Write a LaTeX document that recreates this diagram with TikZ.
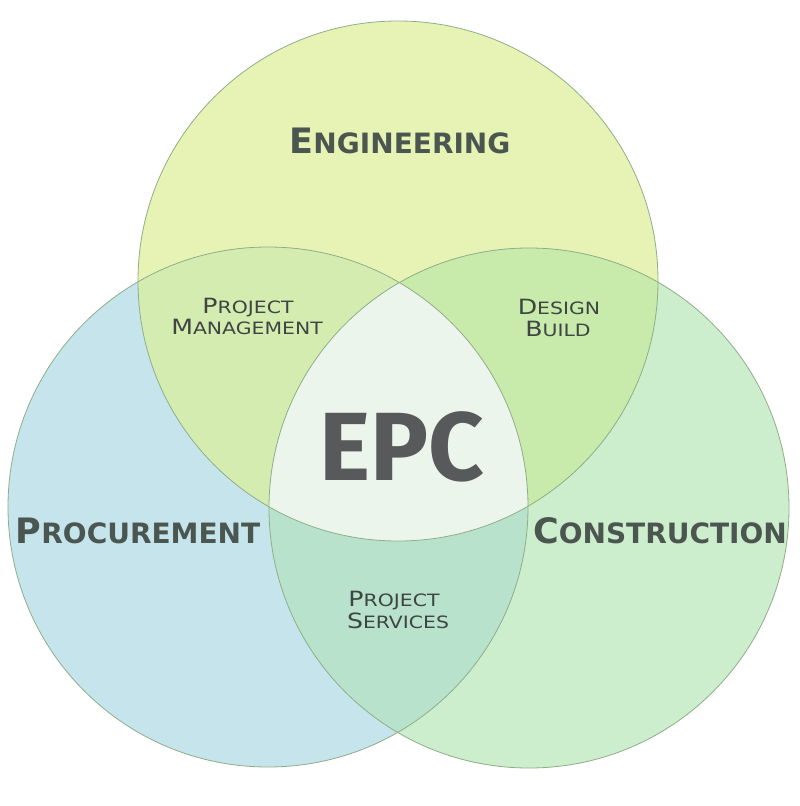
\documentclass[tikz,border=0pt]{standalone}
\usepackage{fontspec}
\setmainfont{DejaVu Sans}
\newfontfamily\headf{DejaVu Sans}
\newfontfamily\epcf{Fira Sans}
\newfontfamily\thinf[FakeStretch=1.2]{DejaVu Sans}
\definecolor{topc}{HTML}{E6F3B4}
\definecolor{leftc}{HTML}{C5E4EC}
\definecolor{rightc}{HTML}{CCEECC}
\definecolor{tlc}{HTML}{D4ECB0}
\definecolor{trc}{HTML}{C8EAAA}
\definecolor{lrc}{HTML}{B8E2CC}
\definecolor{midc}{HTML}{ECF5EC}
\definecolor{edgec}{HTML}{8FAE88}
\definecolor{headc}{HTML}{4B5651}
\definecolor{epcc}{HTML}{58595B}
\definecolor{smallc}{HTML}{3E4542}
\newcommand\hsc[2]{{\fontsize{35}{36}\selectfont #1}{\fontsize{28}{30}\selectfont #2}}
\newcommand\tsc[2]{{\fontsize{21}{22}\selectfont #1}{\fontsize{17}{18}\selectfont #2}}
\tikzset{
  ring/.style={draw=edgec, line width=0.8pt},
  headlbl/.style={text=headc, font=\headf\bfseries, inner sep=0pt, anchor=base},
  smalllbl/.style={text=smallc, font=\thinf, inner sep=0pt, anchor=base},
  epclbl/.style={text=epcc, font=\epcf\bfseries\fontsize{97}{100}\selectfont, inner sep=0pt, anchor=base}
}
\begin{document}
\begin{tikzpicture}[x=1pt,y=-1pt]
\useasboundingbox[fill=white] (0,0) rectangle (800,806);
\coordinate (T) at (398,281);
\coordinate (L) at (268,507);
\coordinate (R) at (529,508);
\def\rr{260pt}
% single regions
\fill[topc] (T) circle[radius=\rr];
\fill[leftc] (L) circle[radius=\rr];
\fill[rightc] (R) circle[radius=\rr];
% pairwise
\begin{scope}\clip (T) circle[radius=\rr]; \fill[tlc] (L) circle[radius=\rr];\end{scope}
\begin{scope}\clip (T) circle[radius=\rr]; \fill[trc] (R) circle[radius=\rr];\end{scope}
\begin{scope}\clip (L) circle[radius=\rr]; \fill[lrc] (R) circle[radius=\rr];\end{scope}
% triple
\begin{scope}\clip (T) circle[radius=\rr]; \clip (L) circle[radius=\rr]; \fill[midc] (R) circle[radius=\rr];\end{scope}
% outlines
\draw[ring] (T) circle[radius=\rr];
\draw[ring] (L) circle[radius=\rr];
\draw[ring] (R) circle[radius=\rr];
% labels
\node[headlbl] (eng) at (400,153) {\hsc{E}{NGINEERING}};
\node[headlbl] (proc) at (138,543) {\hsc{P}{ROCUREMENT}};
\node[headlbl] (cons) at (660,543) {\hsc{C}{ONSTRUCTION}};
\node[epclbl] (epc) at (402,480) {EPC};
\node[smalllbl] (pm1) at (248,313) {\tsc{P}{ROJECT}};
\node[smalllbl] (pm2) at (247,334) {\tsc{M}{ANAGEMENT}};
\node[smalllbl] (db1) at (559,314) {\tsc{D}{ESIGN}};
\node[smalllbl] (db2) at (558,336) {\tsc{B}{UILD}};
\node[smalllbl] (ps1) at (394,606) {\tsc{P}{ROJECT}};
\node[smalllbl] (ps2) at (398,628) {\tsc{S}{ERVICES}};
\end{tikzpicture}
\end{document}
